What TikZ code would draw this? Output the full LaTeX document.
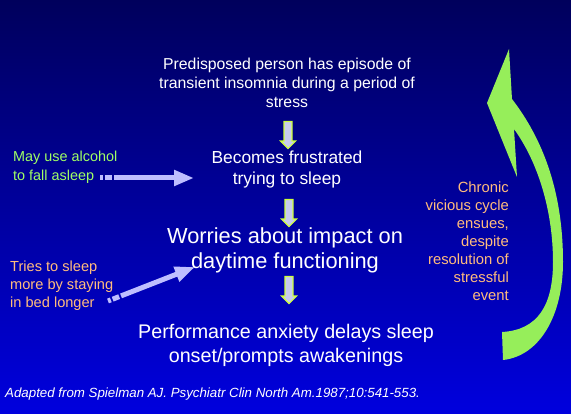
\documentclass[tikz,border=0pt]{standalone}
\usepackage{fontspec}
\setmainfont{Liberation Sans}
\usetikzlibrary{arrows.meta,shapes.arrows}
\usepackage{xcolor}

\definecolor{bgtop}{RGB}{0,0,92}
\definecolor{bgbottom}{RGB}{0,0,222}
\definecolor{notegreen}{RGB}{160,255,100}
\definecolor{noteorange}{RGB}{255,188,125}
\definecolor{sidelavender}{RGB}{190,190,255}
\definecolor{stepfill}{RGB}{200,204,238}
\definecolor{steprim}{RGB}{205,255,60}
\definecolor{cyclegreen}{RGB}{150,238,90}

\begin{document}
\begin{tikzpicture}[x=1pt, y=-1pt, every node/.style={
    text=white,
    inner sep=0pt,
    align=center
}]
    \useasboundingbox[top color=bgtop, bottom color=bgbottom] (0,0) rectangle (571,414);

    \node (predisposed) [shift={(287, 83)},
        font=\fontsize{15.8}{19}\selectfont]
    {
        Predisposed person has episode of\\
        transient insomnia during a period of\\
        stress
    };
    \node (frustrated) [shift={(287, 170)},
        font=\fontsize{17.4}{21}\selectfont]
    {
        Becomes frustrated\\
        trying to sleep
    };
    \node (worries) [shift={(285, 250)},
        font=\fontsize{21.8}{25}\selectfont]
    {
        Worries about impact on\\
        daytime functioning
    };
    \node (performance) [shift={(286, 345)},
        font=\fontsize{19.7}{24}\selectfont]
    {
        Performance anxiety delays sleep\\
        onset/prompts awakenings
    };


    \node (alcohol) [anchor=west, align=left, text=notegreen, shift={(13, 167)},
        font=\fontsize{14.4}{19}\selectfont]
    {
        May use alcohol\\
        to fall asleep
    };
    \node (staying) [anchor=west, align=left, text=noteorange, shift={(10, 286)},
        font=\fontsize{14.6}{18}\selectfont]
    {
        Tries to sleep\\
        more by staying\\
        in bed longer
    };
    \node (chronic) [anchor=east, align=right, text=noteorange, shift={(509, 241)},
        font=\fontsize{14.8}{18}\selectfont]
    {
        Chronic\\
        vicious cycle\\
        ensues,\\
        despite\\
        resolution of\\
        stressful\\
        event
    };

    \node (citation) [anchor=west, shift={(5, 394)},
        font=\fontsize{13.3}{16}\selectfont\itshape]
    {
        Adapted from Spielman AJ. Psychiatr Clin North Am.1987;10:541-553.
    };

    % step arrows between the boxes
    \tikzset{steparrow/.style={
        single arrow,
        draw=steprim,
        fill=stepfill,
        line width=1.2pt,
        inner sep=3.2pt,
        minimum height=27pt,
        minimum width=15pt,
        single arrow head extend=3.5pt,
        anchor=tail,
        rotate=-90
    }}
    \node (step_one) [shift={(288, 121)}, steparrow] {};
    \node (step_two) [shift={(289, 199)}, steparrow] {};
    \node (step_three) [shift={(289, 276)}, steparrow] {};

    % side arrows
    \tikzset{sidearrow/.style={
        draw=sidelavender,
        line width=5pt,
        dash pattern=on 3pt off 2pt on 7pt off 2pt on 300pt,
        -{Triangle[length=20pt, width=15pt]}
    }}
    \coordinate (alcohol_tail) at (100, 178);
    \coordinate (alcohol_tip) at (194, 178);
    \coordinate (staying_tail) at (108, 301);
    \coordinate (staying_tip) at (195, 267);
    \draw[sidearrow] (alcohol_tail) to (alcohol_tip);
    \draw[sidearrow] (staying_tail) to (staying_tip);

    % the vicious cycle
    \fill[cyclegreen] (509, 49) -- (487, 103) -- (517, 177) -- (514, 129)
        .. controls (540, 165) and (553, 215) .. (553, 262)
        .. controls (553, 305) and (538, 330) .. (502, 332)
        -- (503, 360)
        .. controls (540, 356) and (563, 315) .. (563, 262)
        .. controls (563, 190) and (542, 138) .. (512, 99) -- cycle;
\end{tikzpicture}
\end{document}
